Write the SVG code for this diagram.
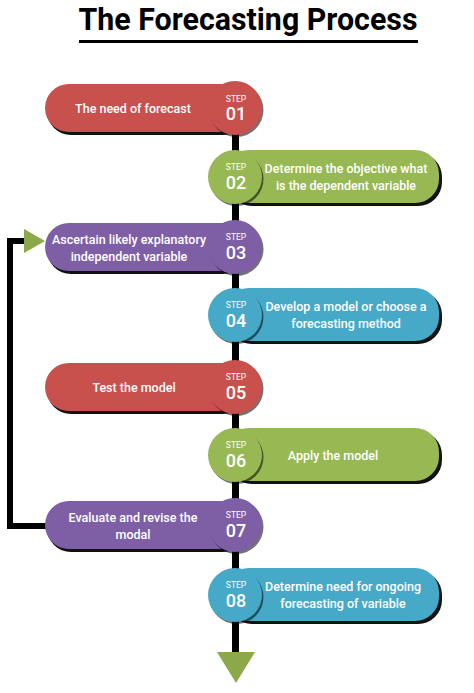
<svg xmlns="http://www.w3.org/2000/svg" width="474" height="693" viewBox="0 0 474 693">
<style>
.sh{fill:#111}
.cs{fill:#000;opacity:0.55}
.red{fill:#C8504D}
.green{fill:#97B853}
.purple{fill:#7E5FA6}
.blue{fill:#46A9C8}
.t{font-family:Roboto,"Liberation Sans",sans-serif;font-weight:500;font-size:12.5px;fill:#fff;text-anchor:middle}
.s{font-family:Roboto,"Liberation Sans",sans-serif;font-size:8.5px;fill:#fff;text-anchor:middle}
.n{font-family:Roboto,"Liberation Sans",sans-serif;font-weight:500;font-size:18px;fill:#fff;text-anchor:middle}
</style>
<rect width="474" height="693" fill="#fff"/>
<g id="title">
<text x="248" y="30" font-family="Roboto,'Liberation Sans',sans-serif" font-weight="700" font-size="31" text-anchor="middle" textLength="339" lengthAdjust="spacingAndGlyphs" fill="#000">The Forecasting Process</text>
<rect x="79" y="40" width="339" height="3" fill="#000"/>
</g>
<g id="connectors">
<line x1="235.5" y1="120" x2="235.5" y2="654" stroke="#000" stroke-width="7"/>
<polygon points="217,652 255,652 236,683" fill="#8CA84B"/>
<path d="M50,526 H10 V241 H27" fill="none" stroke="#000" stroke-width="6"/>
<polygon points="24,229 24,253 45,241" fill="#8CA84B"/>
</g>
<g id="step1">
<rect class="sh" x="47" y="87" width="200" height="48" rx="24"/>
<rect class="red" x="45" y="84" width="200" height="48" rx="24"/>
<circle class="cs" cx="236.5" cy="110" r="27"/>
<circle class="red" cx="235" cy="108" r="27"/>
<text class="t" x="133" y="112.5">The need of forecast</text>
<text class="s" x="236" y="101.5">STEP</text>
<text class="n" x="236" y="120">01</text>
</g>
<g id="step2">
<rect class="sh" x="228" y="153" width="214" height="53" rx="24"/>
<rect class="green" x="225" y="150" width="214" height="53" rx="24"/>
<circle class="cs" cx="236.5" cy="179" r="27"/>
<circle class="green" cx="235" cy="177" r="27"/>
<text class="t" x="346" y="172.5">Determine the objective what</text>
<text class="t" x="346" y="190">is the dependent variable</text>
<text class="s" x="236" y="170">STEP</text>
<text class="n" x="236" y="189">02</text>
</g>
<g id="step3">
<rect class="sh" x="47" y="226" width="200" height="48" rx="24"/>
<rect class="purple" x="45" y="223" width="200" height="48" rx="24"/>
<circle class="cs" cx="236.5" cy="249" r="27"/>
<circle class="purple" cx="235" cy="247" r="27"/>
<text class="t" x="129" y="243.5">Ascertain likely explanatory</text>
<text class="t" x="129" y="260.5">independent variable</text>
<text class="s" x="236" y="240">STEP</text>
<text class="n" x="236" y="259">03</text>
</g>
<g id="step4">
<rect class="sh" x="228" y="291" width="214" height="53" rx="24"/>
<rect class="blue" x="225" y="288" width="214" height="53" rx="24"/>
<circle class="cs" cx="236.5" cy="317" r="27"/>
<circle class="blue" cx="235" cy="315" r="27"/>
<text class="t" x="346" y="311">Develop a model or choose a</text>
<text class="t" x="346" y="328">forecasting method</text>
<text class="s" x="236" y="308">STEP</text>
<text class="n" x="236" y="327">04</text>
</g>
<g id="step5">
<rect class="sh" x="47" y="366" width="200" height="48" rx="24"/>
<rect class="red" x="45" y="363" width="200" height="48" rx="24"/>
<circle class="cs" cx="236.5" cy="389" r="27"/>
<circle class="red" cx="235" cy="387" r="27"/>
<text class="t" x="134" y="391.5">Test the model</text>
<text class="s" x="236" y="380">STEP</text>
<text class="n" x="236" y="399">05</text>
</g>
<g id="step6">
<rect class="sh" x="228" y="431" width="214" height="53" rx="24"/>
<rect class="green" x="225" y="428" width="214" height="53" rx="24"/>
<circle class="cs" cx="236.5" cy="457" r="27"/>
<circle class="green" cx="235" cy="455" r="27"/>
<text class="t" x="333" y="459.5">Apply the model</text>
<text class="s" x="236" y="448">STEP</text>
<text class="n" x="236" y="467">06</text>
</g>
<g id="step7">
<rect class="sh" x="47" y="504" width="200" height="48" rx="24"/>
<rect class="purple" x="45" y="501" width="200" height="48" rx="24"/>
<circle class="cs" cx="236.5" cy="527" r="27"/>
<circle class="purple" cx="235" cy="525" r="27"/>
<text class="t" x="133" y="522">Evaluate and revise the</text>
<text class="t" x="133" y="539">modal</text>
<text class="s" x="236" y="518">STEP</text>
<text class="n" x="236" y="537">07</text>
</g>
<g id="step8">
<rect class="sh" x="228" y="571" width="214" height="53" rx="24"/>
<rect class="blue" x="225" y="568" width="214" height="53" rx="24"/>
<circle class="cs" cx="236.5" cy="597" r="27"/>
<circle class="blue" cx="235" cy="595" r="27"/>
<text class="t" x="343" y="590.5">Determine need for ongoing</text>
<text class="t" x="343" y="607.5">forecasting of variable</text>
<text class="s" x="236" y="588">STEP</text>
<text class="n" x="236" y="607">08</text>
</g>
</svg>
